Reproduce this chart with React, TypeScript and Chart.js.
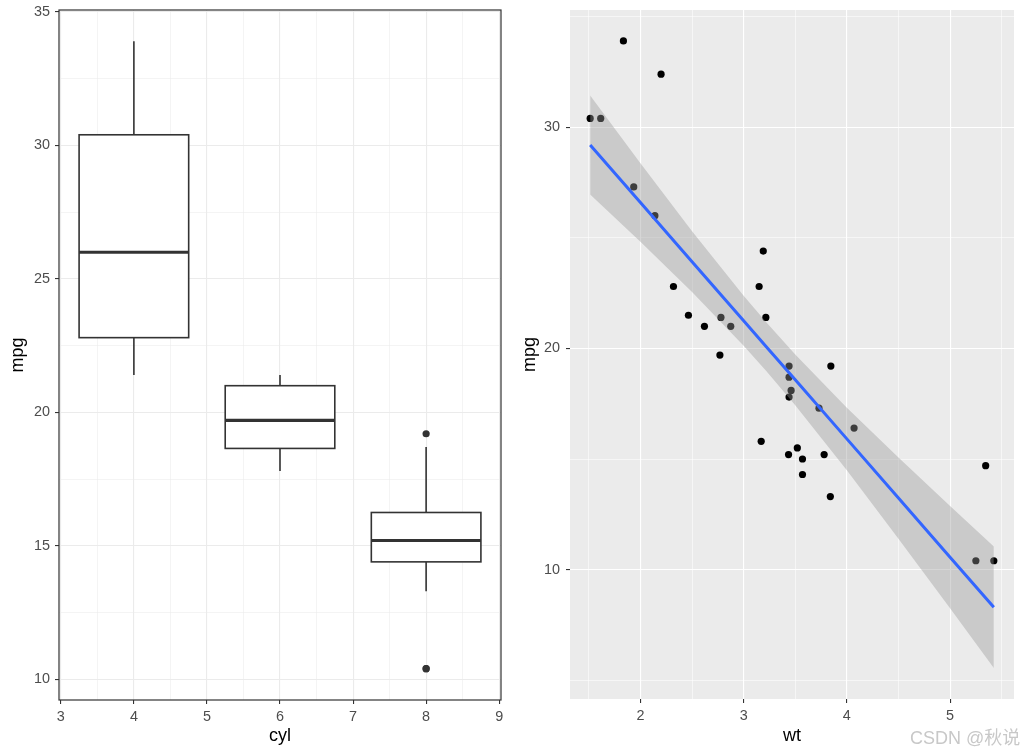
import { useEffect, useRef } from 'react';
import Chart from 'chart.js/auto';

const FONT = '"Liberation Sans", Arial, Helvetica, sans-serif';

// left panel: mpg by cyl (box plot)
const boxCyl = [4, 6, 8];
const boxMin = [21.4, 17.8, 13.3];
const boxQ1 = [22.8, 18.65, 14.4];
const boxMedian = [26.0, 19.7, 15.2];
const boxQ3 = [30.4, 21.0, 16.25];
const boxMax = [33.9, 21.4, 18.7];
const outlierCyl = [8, 8, 8];
const outlierMpg = [10.4, 10.4, 19.2];

const cylTicks = [3, 4, 5, 6, 7, 8, 9];
const cylMinor = [3.5, 4.5, 5.5, 6.5, 7.5, 8.5];
const leftMpgTicks = [10, 15, 20, 25, 30, 35];
const leftMpgMinor = [12.5, 17.5, 22.5, 27.5, 32.5];

// right panel: mpg vs wt with linear fit
const wt = [
  2.62, 2.875, 2.32, 3.215, 3.44, 3.46, 3.57, 3.19, 3.15, 3.44, 3.44, 4.07, 3.73, 3.78, 5.25, 5.424,
  5.345, 2.2, 1.615, 1.835, 2.465, 3.52, 3.435, 3.84, 3.845, 1.935, 2.14, 1.513, 3.17, 2.77, 3.57, 2.78,
];
const mpg = [
  21.0, 21.0, 22.8, 21.4, 18.7, 18.1, 14.3, 24.4, 22.8, 19.2, 17.8, 16.4, 17.3, 15.2, 10.4, 10.4,
  14.7, 32.4, 30.4, 33.9, 21.5, 15.5, 15.2, 13.3, 19.2, 27.3, 26.0, 30.4, 15.8, 19.7, 15.0, 21.4,
];
const fitWt = [1.513, 2.0, 2.5, 3.0, 3.217, 3.5, 4.0, 4.5, 5.0, 5.424];
const fitMpg = [29.2, 26.6, 23.92, 21.25, 20.09, 18.58, 15.91, 13.24, 10.56, 8.3];
const fitLower = [26.96, 24.82, 22.55, 20.12, 18.99, 17.43, 14.49, 11.4, 8.25, 5.55];
const fitUpper = [31.43, 28.37, 25.3, 22.38, 21.19, 19.73, 17.32, 15.07, 12.88, 11.05];

const wtTicks = [2, 3, 4, 5];
const wtMinor = [1.5, 2.5, 3.5, 4.5, 5.5];
const rightMpgTicks = [10, 20, 30];
const rightMpgMinor = [5, 15, 25, 35];

const BOX_HALF = 0.75;

function makeAxis(
  min: number,
  max: number,
  major: number[],
  minor: number[],
  title: string,
  gridColor: string,
  horizontal: boolean,
  size: number,
  tickPadding: number,
  titlePadding: any
) {
  const isMajor = (v: number) => major.includes(v);
  return {
    type: 'linear',
    min,
    max,
    afterBuildTicks: (scale: any) => {
      scale.ticks = [...major, ...minor].sort((a, b) => a - b).map((v) => ({ value: v }));
    },
    afterFit: (scale: any) => {
      if (horizontal) scale.height = size;
      else scale.width = size;
      // let layout.padding alone decide where the panel sits
      scale.paddingTop = 0;
      scale.paddingBottom = 0;
      scale.paddingLeft = 0;
      scale.paddingRight = 0;
    },
    border: { display: false },
    grid: {
      color: gridColor,
      lineWidth: (ctx: any) => (ctx.tick && isMajor(ctx.tick.value) ? 1.1 : 0.55),
      tickLength: 4,
      tickWidth: 1.1,
      tickColor: (ctx: any) => (ctx.tick && isMajor(ctx.tick.value) ? '#333333' : 'rgba(0,0,0,0)'),
    },
    ticks: {
      autoSkip: false,
      maxRotation: 0,
      padding: tickPadding,
      color: '#4d4d4d',
      font: { family: FONT, size: 14.4 },
      callback: (v: number) => (isMajor(v) ? String(v) : ''),
    },
    title: {
      display: true,
      text: title,
      color: '#000000',
      font: { family: FONT, size: 18 },
      padding: titlePadding,
    },
  };
}

const boxPlugin = {
  id: 'boxes',
  beforeDatasetsDraw(chart: any) {
    const { ctx, scales } = chart;
    const xs = scales.x;
    const ys = scales.y;
    ctx.save();
    ctx.strokeStyle = '#333333';
    boxCyl.forEach((c, i) => {
      const xc = xs.getPixelForValue(c);
      const x0 = xs.getPixelForValue(c - BOX_HALF);
      const x1 = xs.getPixelForValue(c + BOX_HALF);
      const yMin = ys.getPixelForValue(boxMin[i]);
      const yQ1 = ys.getPixelForValue(boxQ1[i]);
      const yMed = ys.getPixelForValue(boxMedian[i]);
      const yQ3 = ys.getPixelForValue(boxQ3[i]);
      const yMax = ys.getPixelForValue(boxMax[i]);
      ctx.lineWidth = 1.6;
      ctx.beginPath();
      ctx.moveTo(xc, yMax);
      ctx.lineTo(xc, yQ3);
      ctx.moveTo(xc, yQ1);
      ctx.lineTo(xc, yMin);
      ctx.stroke();
      ctx.fillStyle = '#ffffff';
      ctx.fillRect(x0, yQ3, x1 - x0, yQ1 - yQ3);
      ctx.strokeRect(x0, yQ3, x1 - x0, yQ1 - yQ3);
      ctx.lineWidth = 3.2;
      ctx.beginPath();
      ctx.moveTo(x0, yMed);
      ctx.lineTo(x1, yMed);
      ctx.stroke();
    });
    ctx.restore();
  },
  afterDraw(chart: any) {
    const { ctx, chartArea } = chart;
    ctx.save();
    ctx.strokeStyle = '#333333';
    ctx.lineWidth = 1.2;
    ctx.strokeRect(chartArea.left, chartArea.top, chartArea.right - chartArea.left, chartArea.bottom - chartArea.top);
    ctx.restore();
  },
};

const panelBg = {
  id: 'panelBg',
  beforeDraw(chart: any) {
    const { ctx, chartArea } = chart;
    ctx.save();
    ctx.fillStyle = '#ebebeb';
    ctx.fillRect(chartArea.left, chartArea.top, chartArea.right - chartArea.left, chartArea.bottom - chartArea.top);
    ctx.restore();
  },
};

function BoxPanel() {
  const canvasRef = useRef<HTMLCanvasElement>(null);
  const chartRef = useRef<Chart | null>(null);

  useEffect(() => {
    if (!canvasRef.current) return;
    chartRef.current = new Chart(canvasRef.current, {
      type: 'scatter',
      data: {
        datasets: [
          {
            data: outlierCyl.map((c, i) => ({ x: c, y: outlierMpg[i] })),
            pointRadius: 3.6,
            backgroundColor: '#333333',
            borderColor: '#333333',
            borderWidth: 0,
          },
        ],
      },
      options: {
        animation: false,
        responsive: false,
        events: [],
        layout: { padding: { left: 0, top: 10, right: 9, bottom: 0 } },
        plugins: { legend: { display: false }, tooltip: { enabled: false } },
        scales: {
          x: makeAxis(2.975, 9.025, cylTicks, cylMinor, 'cyl', '#ebebeb', true, 56, 4, { top: 0, bottom: 9 }),
          y: makeAxis(9.225, 35.075, leftMpgTicks, leftMpgMinor, 'mpg', '#ebebeb', false, 59, 5, { top: 7, bottom: 0 }),
        } as any,
      },
      plugins: [boxPlugin],
    });
    return () => {
      if (chartRef.current) chartRef.current.destroy();
    };
  }, []);

  return <canvas ref={canvasRef} width={510} height={756} style={{ width: 510, height: 756 }} />;
}

function ScatterPanel() {
  const canvasRef = useRef<HTMLCanvasElement>(null);
  const chartRef = useRef<Chart | null>(null);

  useEffect(() => {
    if (!canvasRef.current) return;
    chartRef.current = new Chart(canvasRef.current, {
      type: 'scatter',
      data: {
        datasets: [
          {
            data: wt.map((w, i) => ({ x: w, y: mpg[i] })),
            pointRadius: 3.6,
            backgroundColor: '#000000',
            borderColor: '#000000',
            borderWidth: 0,
            order: 3,
          },
          {
            type: 'line',
            data: fitWt.map((w, i) => ({ x: w, y: fitUpper[i] })),
            pointRadius: 0,
            borderWidth: 0,
            borderColor: 'rgba(0,0,0,0)',
            fill: false,
            tension: 0,
            order: 2,
          },
          {
            type: 'line',
            data: fitWt.map((w, i) => ({ x: w, y: fitLower[i] })),
            pointRadius: 0,
            borderWidth: 0,
            borderColor: 'rgba(0,0,0,0)',
            backgroundColor: 'rgba(153,153,153,0.4)',
            fill: '-1',
            tension: 0,
            order: 2,
          },
          {
            type: 'line',
            data: fitWt.map((w, i) => ({ x: w, y: fitMpg[i] })),
            pointRadius: 0,
            borderWidth: 3,
            borderColor: '#3366ff',
            fill: false,
            tension: 0,
            order: 1,
          },
        ] as any,
      },
      options: {
        animation: false,
        responsive: false,
        events: [],
        layout: { padding: { left: 0, top: 10, right: 10, bottom: 0 } },
        plugins: { legend: { display: false }, tooltip: { enabled: false } },
        scales: {
          x: makeAxis(1.3175, 5.6195, wtTicks, wtMinor, 'wt', '#ffffff', true, 57, 4, { top: 0, bottom: 9 }),
          y: makeAxis(4.15, 35.3, rightMpgTicks, rightMpgMinor, 'mpg', '#ffffff', false, 60, 6, { top: 9, bottom: 0 }),
        } as any,
      },
      plugins: [panelBg],
    });
    return () => {
      if (chartRef.current) chartRef.current.destroy();
    };
  }, []);

  return <canvas ref={canvasRef} width={514} height={756} style={{ width: 514, height: 756 }} />;
}

export default function App() {
  return (
    <div style={{ position: 'absolute', left: 0, top: 0, width: 1024, height: 756, background: '#ffffff' }}>
      <div style={{ position: 'absolute', left: 0, top: 0, width: 510, height: 756 }}>
        <BoxPanel />
      </div>
      <div style={{ position: 'absolute', left: 510, top: 0, width: 514, height: 756 }}>
        <ScatterPanel />
      </div>
      <span
        style={{
          position: 'absolute',
          left: 910,
          top: 723,
          fontFamily: '"Liberation Sans", Arial, "Noto Sans CJK SC", sans-serif',
          fontSize: 18,
          color: '#c8c8c8',
          whiteSpace: 'nowrap',
        }}
      >
        CSDN @秋说
      </span>
    </div>
  );
}
